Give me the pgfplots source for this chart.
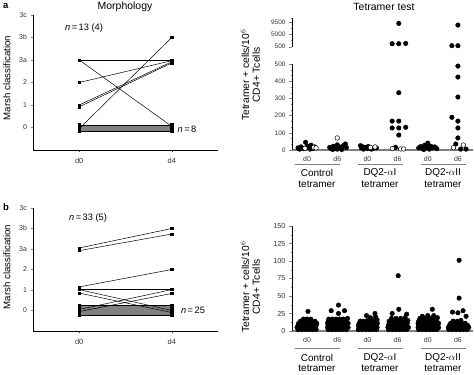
\documentclass[border=0pt]{standalone}
\usepackage{fontspec}
\setmainfont{Liberation Sans}
\usepackage{pgfplots}
\pgfplotsset{compat=1.18}
\pgfplotsset{
  /pgf/number format/assume math mode=true,
  /pgf/number format/1000 sep={},
  scaled ticks=false,
  leftpanel/.style={scale only axis, width=185bp, xmin=-0.5, xmax=1.5, ymin=-1, ymax=5,
    axis x line*=bottom, axis y line*=left, axis line style={-, line width=0.6pt},
    xtick={0,1}, ytick={0,1,2,3,4,5}, yticklabels={0,1,2,3a,3b,3c},
    tick align=outside, major tick length=2.5bp, x tick style={black!80},
    tick label style={font=\fontsize{7}{8}\selectfont, text=black!80},
    xticklabel style={font=\fontsize{7.5}{8}\selectfont, yshift=-2bp}, clip=false},
  rightpanel/.style={scale only axis, width=181bp, xmin=-0.5, xmax=5.5,
    axis x line*=bottom, axis y line*=left, axis line style={-},
    x axis line style={black!50, line width=1.2pt}, y axis line style={black, line width=0.6pt},
    xtick={0,1,2,3,4,5}, xticklabels={d0,d6,d0,d6,d0,d6}, x tick style={draw=none},
    tick align=outside, major tick length=3bp, minor tick length=1.5bp,
    tick label style={font=\fontsize{6.5}{7}\selectfont, text=black!80},
    xticklabel style={font=\fontsize{7}{8}\selectfont}, clip=false},
  ln/.style={black, line width=0.5pt, mark=square*, mark size=1.1bp, mark options={fill=black, draw=black}},
  bd/.style={black!50, line width=0.7pt, mark=square*, mark size=1.1bp, mark options={fill=black, draw=black}},
  filled/.style={only marks, mark=*, mark size=2.3bp, mark options={fill=black, draw=black}},
  open/.style={only marks, mark=*, mark size=2.3bp, mark options={fill=white, draw=black, line width=0.5pt}},
}
\begin{document}
\begin{tikzpicture}
\path[use as bounding box] (0,0) rectangle (474bp,375bp);

% ---------- panel a, morphology ----------
\begin{axis}[leftpanel, at={(33bp,225bp)}, anchor=south west, height=135bp, xticklabels={d0,d4}]
\addplot[bd] coordinates {(0,-0.12) (1,-0.12)};
\addplot[bd] coordinates {(0,-0.08) (1,-0.08)};
\addplot[bd] coordinates {(0,-0.04) (1,-0.04)};
\addplot[bd] coordinates {(0,0.0) (1,0.0)};
\addplot[bd] coordinates {(0,0.04) (1,0.04)};
\addplot[bd] coordinates {(0,0.08) (1,0.08)};
\addplot[ln] coordinates {(0,0.12) (1,0.12)};
\addplot[ln] coordinates {(0,-0.15) (1,-0.15)};
\addplot[ln] coordinates {(0,3) (1,3)};
\addplot[ln] coordinates {(0,3) (1,0.05)};
\addplot[ln] coordinates {(0,2) (1,2.97)};
\addplot[ln] coordinates {(0,1.0) (1,2.92)};
\addplot[ln] coordinates {(0,0.92) (1,2.87)};
\addplot[ln] coordinates {(0,-0.05) (1,4)};
\end{axis}

% ---------- panel b, morphology ----------
\begin{axis}[leftpanel, at={(33bp,44bp)}, anchor=south west, height=123bp, xticklabels={d0,d4}]
\addplot[ln] coordinates {(0,-0.25) (1,-0.25)};
\addplot[bd] coordinates {(0,-0.2) (1,-0.2)};
\addplot[bd] coordinates {(0,-0.15) (1,-0.15)};
\addplot[bd] coordinates {(0,-0.1) (1,-0.1)};
\addplot[bd] coordinates {(0,-0.05) (1,-0.05)};
\addplot[bd] coordinates {(0,0.0) (1,0.0)};
\addplot[bd] coordinates {(0,0.05) (1,0.05)};
\addplot[bd] coordinates {(0,0.1) (1,0.1)};
\addplot[bd] coordinates {(0,0.15) (1,0.15)};
\addplot[bd] coordinates {(0,0.2) (1,0.2)};
\addplot[ln] coordinates {(0,0.25) (1,0.25)};
\addplot[ln] coordinates {(0,3.05) (1,4.0)};
\addplot[ln] coordinates {(0,2.92) (1,3.73)};
\addplot[ln] coordinates {(0,1.15) (1,2.0)};
\addplot[ln] coordinates {(0,1.02) (1,1.02)};
\addplot[ln] coordinates {(0,1.02) (1,0.0)};
\addplot[ln] coordinates {(0,0.85) (1,-0.1)};
\addplot[ln] coordinates {(0,0.05) (1,1.02)};
\addplot[ln] coordinates {(0,-0.05) (1,0.83)};
\end{axis}

% ---------- panel a, tetramer, lower part ----------
\begin{axis}[rightpanel, at={(292bp,225bp)}, anchor=south west, height=86bp,
  ymin=0, ymax=500, ytick={0,100,...,500}, minor y tick num=2]
\addplot[filled] coordinates {(-0.3,12) (-0.2,18) (-0.12,8) (-0.05,45) (0.0,22) (0.07,14) (0.13,28) (0.2,10) (-0.25,5) (0.1,5) (0.25,18)};
\addplot[open] coordinates {(-0.07,10) (0.22,15) (0.3,12)};
\addplot[filled] coordinates {(0.75,15) (0.8,8) (0.87,22) (0.93,12) (1.0,30) (1.0,5) (1.07,18) (1.13,10) (1.2,25) (1.27,35) (1.3,14) (0.85,3) (1.15,3)};
\addplot[open] coordinates {(1.0,70)};
\addplot[filled] coordinates {(1.77,25) (1.8,12) (1.87,5) (1.93,15) (2.0,8) (2.03,20) (2.13,5) (2.2,10) (2.3,12) (1.85,18)};
\addplot[open] coordinates {(2.1,15) (2.25,18)};
\addplot[filled] coordinates {(2.82,168) (3.04,168) (2.82,128) (3.04,128) (3.27,132) (3.04,87) (3.04,333) (2.93,16)};
\addplot[open] coordinates {(2.83,8) (3.1,6) (3.2,6)};
\addplot[filled] coordinates {(3.7,12) (3.77,20) (3.83,8) (3.9,28) (3.97,15) (4.0,40) (4.05,5) (4.1,22) (4.17,12) (4.23,18) (4.3,8) (3.87,3)};
\addplot[filled] coordinates {(4.8,190) (5.0,168) (5.0,128) (5.0,70) (4.93,35) (5.0,308) (5.0,424) (5.0,488) (5.09,5) (5.27,5)};
\addplot[open] coordinates {(4.85,13) (5.18,29)};
\end{axis}

% ---------- panel a, tetramer, upper part ----------
\begin{axis}[scale only axis, width=181bp, height=28.7bp, at={(292bp,328.3bp)}, anchor=south west,
  xmin=-0.5, xmax=5.5, ymin=500, ymax=11000, axis x line=none, axis y line*=left,
  axis line style={-, line width=0.6pt}, ytick={500,5000,9500}, yticklabels={500,5000,9500},
  minor ytick={2750,7250,11000},
  tick align=outside, major tick length=3bp, minor tick length=1.5bp,
  tick label style={font=\fontsize{6.5}{7}\selectfont, text=black!80}, clip=false]
\addplot[filled] coordinates {(2.82,1590) (3.04,1590) (3.27,1700) (3.04,9020)};
\addplot[filled] coordinates {(4.8,870) (5.0,870) (5.0,8400)};
\end{axis}

% ---------- panel b, tetramer ----------
\begin{axis}[rightpanel, at={(292bp,44bp)}, anchor=south west, height=105bp,
  ymin=0, ymax=150, ytick={0,25,...,150}, minor y tick num=1,
  yticklabel style={font=\fontsize{7.3}{8}\selectfont}]
% control d0
\addplot[filled] coordinates {
(-0.3,2) (-0.18,2) (-0.06,2) (0.06,2) (0.18,2) (0.3,2)
(-0.33,5) (-0.2,5) (-0.08,5) (0.04,5) (0.16,5) (0.28,5)
(-0.3,8) (-0.18,8) (-0.06,8) (0.06,8) (0.18,8) (0.3,8)
(-0.28,11) (-0.15,11) (-0.03,11) (0.09,11) (0.21,11) (0.32,11)
(-0.22,14) (-0.1,14) (0.02,14) (0.14,14) (0.26,14)
(-0.12,17) (0.0,17) (0.12,17) (0.03,28)};
% control d6
\addplot[filled] coordinates {
(0.7,2) (0.82,2) (0.94,2) (1.06,2) (1.18,2) (1.3,2)
(0.68,5) (0.8,5) (0.92,5) (1.04,5) (1.16,5) (1.28,5) (1.36,5)
(0.7,8) (0.82,8) (0.94,8) (1.06,8) (1.18,8) (1.3,8)
(0.68,11) (0.8,11) (0.92,11) (1.04,11) (1.16,11) (1.28,11) (1.36,11)
(0.7,14) (0.82,14) (0.94,14) (1.06,14) (1.18,14) (1.3,14)
(0.72,17) (0.84,17) (0.96,17) (1.08,17) (1.2,17) (1.34,18)
(0.8,29) (1.04,37) (1.04,25) (1.24,29)};
% DQ2-alphaI d0
\addplot[filled] coordinates {
(1.7,2) (1.82,2) (1.94,2) (2.06,2) (2.18,2) (2.3,2)
(1.72,5) (1.84,5) (1.96,5) (2.08,5) (2.2,5) (2.32,5)
(1.7,8) (1.82,8) (1.94,8) (2.06,8) (2.18,8) (2.3,8)
(1.73,11) (1.85,11) (1.97,11) (2.09,11) (2.21,11) (2.33,11)
(1.76,14) (1.86,14) (2.0,15) (2.12,14) (2.22,16) (2.32,16)
(1.97,22) (2.1,19) (2.27,20) (2.25,25)};
% DQ2-alphaI d6
\addplot[filled] coordinates {
(2.7,2) (2.82,2) (2.94,2) (3.06,2) (3.18,2) (3.3,2)
(2.68,5) (2.8,5) (2.92,5) (3.04,5) (3.16,5) (3.28,5) (3.36,5)
(2.7,8) (2.82,8) (2.94,8) (3.06,8) (3.18,8) (3.3,8)
(2.72,11) (2.84,11) (2.96,11) (3.08,11) (3.2,11) (3.32,11)
(2.72,14) (2.84,14) (2.96,14) (3.08,14) (3.2,14) (3.34,15)
(2.8,18) (2.95,18) (3.1,18) (3.25,19)
(2.82,25) (3.04,31) (3.3,24) (3.02,79)};
% DQ2-alphaII d0
\addplot[filled] coordinates {
(3.7,2) (3.82,2) (3.94,2) (4.06,2) (4.18,2) (4.3,2)
(3.68,5) (3.8,5) (3.92,5) (4.04,5) (4.16,5) (4.28,5) (4.36,5)
(3.7,8) (3.82,8) (3.94,8) (4.06,8) (4.18,8) (4.3,8)
(3.68,11) (3.8,11) (3.92,11) (4.04,11) (4.16,11) (4.28,11) (4.36,11)
(3.7,14) (3.82,14) (3.94,14) (4.06,14) (4.18,14) (4.3,14)
(3.74,18) (3.86,18) (3.98,18) (4.1,18) (4.22,18) (4.32,19)
(3.82,21) (4.0,22) (4.2,22) (4.15,31)};
% DQ2-alphaII d6
\addplot[filled] coordinates {
(4.7,2) (4.82,2) (4.94,2) (5.06,2) (5.18,2) (5.3,2)
(4.68,5) (4.8,5) (4.92,5) (5.04,5) (5.16,5) (5.28,5) (5.36,5)
(4.72,8) (4.84,8) (4.96,8) (5.08,8) (5.2,8) (5.32,8)
(4.76,11) (4.88,11) (5.0,11) (5.12,11) (5.24,11)
(4.84,14) (4.98,14) (5.1,15)
(4.82,27) (5.0,26) (5.17,29) (5.27,21) (5.04,47) (5.04,101)};
\end{axis}

% ---------- texts ----------
\node[font=\bfseries\fontsize{9.5}{10}\selectfont, anchor=west] at (-0.5bp,369bp) {a};
\node[font=\bfseries\fontsize{9.5}{10}\selectfont, anchor=west] at (-0.5bp,168bp) {b};
\node[font=\fontsize{10.5}{12}\selectfont] at (125bp,368.5bp) {Morphology};
\node[font=\fontsize{10.5}{12}\selectfont] at (384bp,368.5bp) {Tetramer test};

\node[font=\fontsize{9.7}{11}\selectfont, rotate=90] at (7bp,297bp) {Marsh classification};
\node[font=\fontsize{9.7}{11}\selectfont, rotate=90] at (7bp,108bp) {Marsh classification};

\node[font=\fontsize{10.3}{11}\selectfont, rotate=90, align=center] at (250.5bp,300bp) {Tetramer + cells/10$^6$\\CD4+ Tcells};
\node[font=\fontsize{10.3}{11}\selectfont, rotate=90, align=center] at (250.5bp,88bp) {Tetramer + cells/10$^6$\\CD4+ Tcells};

\node[font=\fontsize{9.3}{10}\selectfont] at (84bp,347bp) {\textit{n}\,=\,13 (4)};
\node[font=\fontsize{9.3}{10}\selectfont] at (187bp,246bp) {\textit{n}\,=\,8};
\node[font=\fontsize{9.3}{10}\selectfont] at (88bp,157bp) {\textit{n}\,=\,33 (5)};
\node[font=\fontsize{9.3}{10}\selectfont] at (193bp,65bp) {\textit{n}\,=\,25};

% group labels
\foreach \cx/\lab in {317/Control, 380/DQ2-$\alpha$I, 443/DQ2-$\alpha$II} {
  \draw[black!50, line width=0.8pt] (\cx bp-22.5bp,211bp) -- (\cx bp+22.5bp,211bp);
  \node[font=\fontsize{10}{11}\selectfont] at (\cx bp,202.5bp) {\lab};
  \node[font=\fontsize{10}{11}\selectfont] at (\cx bp,190.5bp) {tetramer};
  \draw[black!50, line width=0.8pt] (\cx bp-22.5bp,27bp) -- (\cx bp+22.5bp,27bp);
  \node[font=\fontsize{10}{11}\selectfont] at (\cx bp,17.5bp) {\lab};
  \node[font=\fontsize{10}{11}\selectfont] at (\cx bp,6.5bp) {tetramer};
}
\end{tikzpicture}
\end{document}
